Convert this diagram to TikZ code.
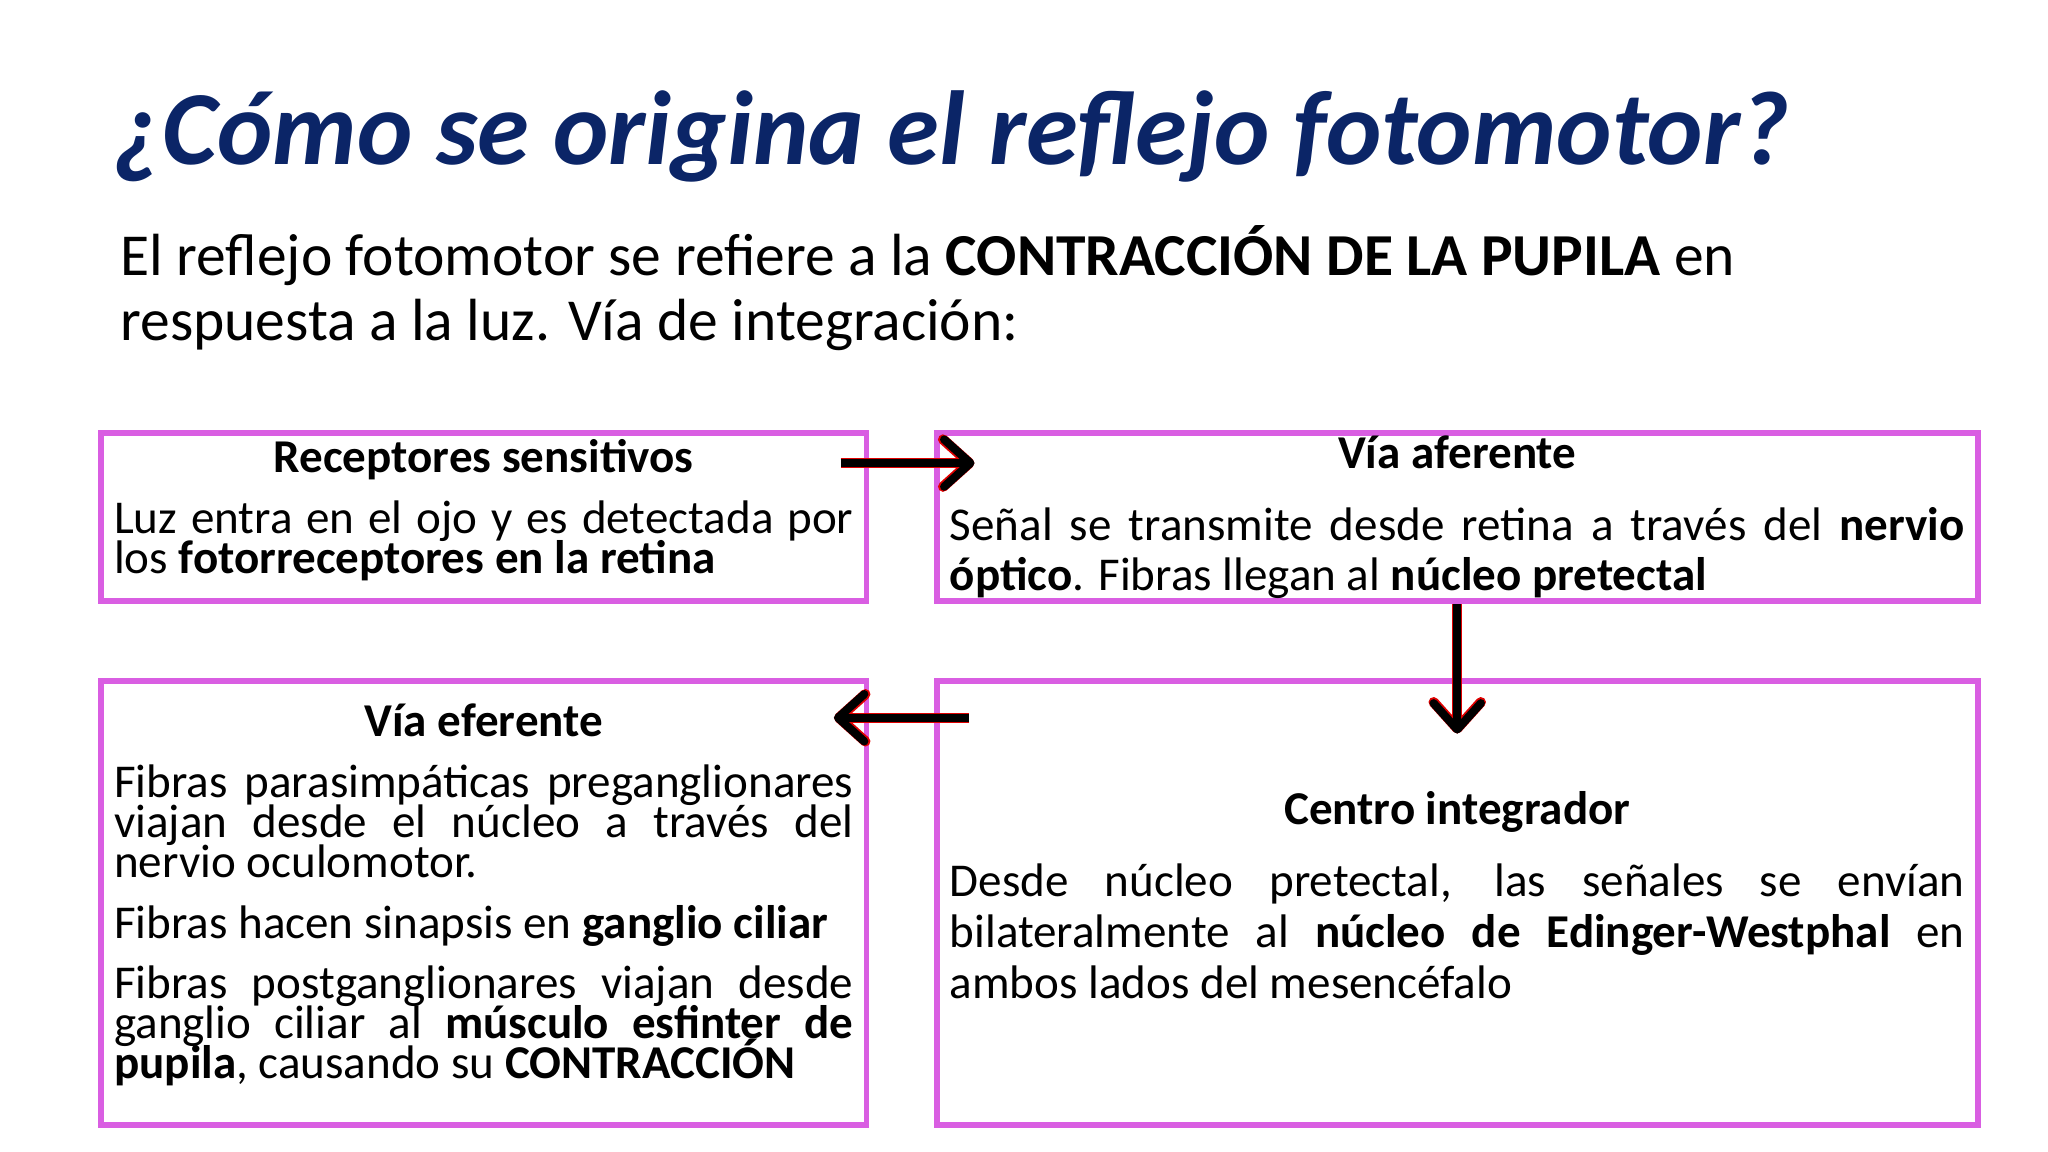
\documentclass[tikz,border=0pt]{standalone}
\usepackage{fontspec}
\setmainfont{Carlito}
\usetikzlibrary{arrows.meta,calc}
\definecolor{azultit}{HTML}{0B2567}
\definecolor{marco}{HTML}{D95EE2}
\definecolor{rojoborde}{HTML}{E00000}
\hyphenpenalty=10000
\exhyphenpenalty=10000
\tolerance=9999
\newcommand{\encab}[1]{\setlength{\parskip}{4.6pt}{\centering\bfseries #1\par}}
\newcommand{\ajuste}[1]{\par\vspace{#1}\null}
\begin{document}
\begin{tikzpicture}[x=0.1mm,y=-0.1mm,
  panel/.style={draw=marco, line width=0.45mm, fill=white, inner xsep=1mm, inner ysep=0mm, align=justify},
  angosto/.style={panel, text width=56.3mm},
  ancho/.style={panel, text width=77.3mm},
  apretado/.style={font=\fontsize{10.2}{8.6}\selectfont, execute at begin node={\fontsize{10.2}{8.6}\selectfont\lineskiplimit=-100pt\relax}},
  suelto/.style={font=\fontsize{10.2}{11}\selectfont, execute at begin node={\fontsize{10.2}{11}\selectfont\lineskiplimit=-100pt\relax}},
  borde/.style={draw=rojoborde, line width=0.78mm, -{Straight Barb[length=2mm,width=3.6mm,round]}},
  flecha/.style={draw=black, line width=0.62mm, -{Straight Barb[length=2mm,width=3.6mm,round]}}]
\useasboundingbox (0,0) rectangle (1560,877.5);
\node [anchor=base west, text=azultit, font=\fontsize{22.8}{27}\selectfont\bfseries\itshape, inner sep=0pt] (tit) at (86,125) {¿Cómo se origina el reflejo fotomotor?};
\node [anchor=base west, align=left, font=\fontsize{12.9}{13.9}\selectfont, inner sep=0pt] (intro) at (91,259) {El reflejo fotomotor se refiere a la \textbf{CONTRACCIÓN DE LA PUPILA} en\\respuesta a la luz. Vía de integración:};
\node [angosto, apretado, minimum height=12.8mm] (rec) at (368.5,394) {\encab{Receptores sensitivos}Luz entra en el ojo y es detectada por\linebreak los \textbf{fotorreceptores en la retina}\ajuste{-4pt}};
\node [ancho, suelto, minimum height=12.8mm] (afe) at (1110,394) {\encab{Vía aferente}Señal se transmite desde retina a través del \textbf{nervio óptico}. Fibras llegan al \textbf{núcleo pretectal}};
\node [angosto, apretado, minimum height=33.8mm] (efe) at (368.5,688) {\encab{Vía eferente}Fibras parasimpáticas preganglionares viajan desde el núcleo a través del nervio oculomotor.\par Fibras hacen sinapsis en \textbf{ganglio ciliar}\par Fibras postganglionares viajan desde ganglio ciliar al \textbf{músculo esfinter de pupila}, causando su \textbf{CONTRACCIÓN}\ajuste{-3.4pt}};
\node [ancho, suelto, minimum height=33.8mm] (cen) at (1110,688) {\encab{Centro integrador}Desde núcleo pretectal, las señales se envían bilateralmente al \textbf{núcleo de Edinger-Westphal} en ambos lados del mesencéfalo\ajuste{-7.4pt}};
\coordinate (a1i) at ($(rec.north east)+(-22,25)$);
\coordinate (a1f) at ($(afe.north west)+(31,25)$);
\coordinate (a2f) at ($(cen.north)+(0,42)$);
\coordinate (a3i) at ($(cen.north west)+(27,30)$);
\coordinate (a3f) at ($(efe.north east)+(-27,30)$);
\draw [borde] (a1i) -- (a1f);
\draw [flecha] (a1i) -- (a1f);
\draw [borde] (afe.south) -- (a2f);
\draw [flecha] (afe.south) -- (a2f);
\draw [borde] (a3i) -- (a3f);
\draw [flecha] (a3i) -- (a3f);
\end{tikzpicture}
\end{document}
